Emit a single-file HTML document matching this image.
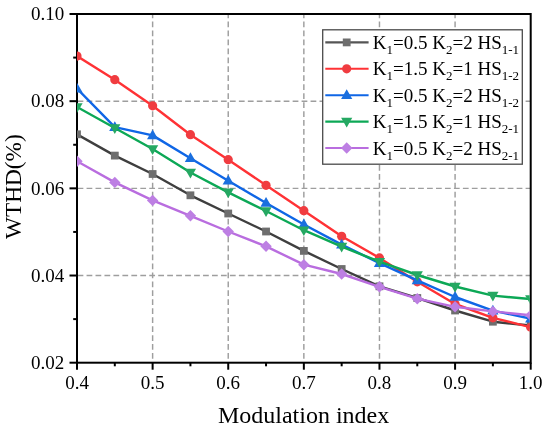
<!DOCTYPE html>
<html><head><meta charset="utf-8"><title>WTHD vs Modulation index</title>
<style>
html,body{margin:0;padding:0;background:#fff;}
body{width:550px;height:430px;overflow:hidden;}
svg{display:block;}
text{font-family:"Liberation Serif",serif;fill:#000;}
.t{font-size:19px;}
.ax{font-size:24px;}
.sub{font-size:13px;}
</style></head><body>
<svg width="550" height="430" viewBox="0 0 550 430">
<rect width="550" height="430" fill="#fff"/>
<defs><clipPath id="pc"><rect x="77" y="14" width="452.7" height="347.7"/></clipPath></defs>
<g stroke="#9e9e9e" stroke-width="1.45" stroke-dasharray="5.75 3.21" fill="none"><line x1="152.62" y1="14.0" x2="152.62" y2="362.7" stroke-dashoffset="1.4"/><line x1="228.23" y1="14.0" x2="228.23" y2="362.7" stroke-dashoffset="1.4"/><line x1="303.85" y1="14.0" x2="303.85" y2="362.7" stroke-dashoffset="1.4"/><line x1="379.47" y1="14.0" x2="379.47" y2="362.7" stroke-dashoffset="1.4"/><line x1="455.08" y1="14.0" x2="455.08" y2="362.7" stroke-dashoffset="1.4"/><line x1="77.6" y1="275.52" x2="530.7" y2="275.52"/><line x1="77.6" y1="188.35" x2="530.7" y2="188.35"/><line x1="77.6" y1="101.18" x2="530.7" y2="101.18"/></g>
<rect x="77.0" y="14.0" width="453.70" height="348.70" fill="none" stroke="#000" stroke-width="2"/>
<g clip-path="url(#pc)">
<polyline points="77.00,134.30 114.81,155.60 152.62,174.00 190.43,195.30 228.23,213.50 266.04,231.50 303.85,250.90 341.66,269.00 379.47,286.30 417.28,298.00 455.08,310.50 492.89,321.70 530.70,325.50" fill="none" stroke="#3f3f3f" stroke-width="2.4" stroke-linejoin="round"/>
<rect x="73.10" y="130.40" width="7.8" height="7.8" fill="#6e6e6e"/><rect x="110.91" y="151.70" width="7.8" height="7.8" fill="#6e6e6e"/><rect x="148.72" y="170.10" width="7.8" height="7.8" fill="#6e6e6e"/><rect x="186.53" y="191.40" width="7.8" height="7.8" fill="#6e6e6e"/><rect x="224.33" y="209.60" width="7.8" height="7.8" fill="#6e6e6e"/><rect x="262.14" y="227.60" width="7.8" height="7.8" fill="#6e6e6e"/><rect x="299.95" y="247.00" width="7.8" height="7.8" fill="#6e6e6e"/><rect x="337.76" y="265.10" width="7.8" height="7.8" fill="#6e6e6e"/><rect x="375.57" y="282.40" width="7.8" height="7.8" fill="#6e6e6e"/><rect x="413.38" y="294.10" width="7.8" height="7.8" fill="#6e6e6e"/><rect x="451.18" y="306.60" width="7.8" height="7.8" fill="#6e6e6e"/><rect x="488.99" y="317.80" width="7.8" height="7.8" fill="#6e6e6e"/><rect x="526.80" y="321.60" width="7.8" height="7.8" fill="#6e6e6e"/>
<polyline points="77.00,56.10 114.81,79.70 152.62,105.80 190.43,134.70 228.23,159.70 266.04,185.30 303.85,210.70 341.66,236.30 379.47,257.90 417.28,281.80 455.08,304.00 492.89,317.80 530.70,327.30" fill="none" stroke="#ff3235" stroke-width="2.4" stroke-linejoin="round"/>
<circle cx="77.00" cy="56.10" r="4.6" fill="#f03c40"/><circle cx="114.81" cy="79.70" r="4.6" fill="#f03c40"/><circle cx="152.62" cy="105.80" r="4.6" fill="#f03c40"/><circle cx="190.43" cy="134.70" r="4.6" fill="#f03c40"/><circle cx="228.23" cy="159.70" r="4.6" fill="#f03c40"/><circle cx="266.04" cy="185.30" r="4.6" fill="#f03c40"/><circle cx="303.85" cy="210.70" r="4.6" fill="#f03c40"/><circle cx="341.66" cy="236.30" r="4.6" fill="#f03c40"/><circle cx="379.47" cy="257.90" r="4.6" fill="#f03c40"/><circle cx="417.28" cy="281.80" r="4.6" fill="#f03c40"/><circle cx="455.08" cy="304.00" r="4.6" fill="#f03c40"/><circle cx="492.89" cy="317.80" r="4.6" fill="#f03c40"/><circle cx="530.70" cy="327.30" r="4.6" fill="#f03c40"/>
<polyline points="77.00,88.60 114.81,127.20 152.62,135.40 190.43,158.20 228.23,180.70 266.04,203.00 303.85,224.50 341.66,244.60 379.47,263.20 417.28,280.40 455.08,297.00 492.89,310.70 530.70,318.60" fill="none" stroke="#0f66e6" stroke-width="2.4" stroke-linejoin="round"/>
<polygon points="77.00,82.70 82.60,92.40 71.40,92.40" fill="#1a6fdf"/><polygon points="114.81,121.30 120.41,131.00 109.21,131.00" fill="#1a6fdf"/><polygon points="152.62,129.50 158.22,139.20 147.02,139.20" fill="#1a6fdf"/><polygon points="190.43,152.30 196.03,162.00 184.83,162.00" fill="#1a6fdf"/><polygon points="228.23,174.80 233.83,184.50 222.63,184.50" fill="#1a6fdf"/><polygon points="266.04,197.10 271.64,206.80 260.44,206.80" fill="#1a6fdf"/><polygon points="303.85,218.60 309.45,228.30 298.25,228.30" fill="#1a6fdf"/><polygon points="341.66,238.70 347.26,248.40 336.06,248.40" fill="#1a6fdf"/><polygon points="379.47,257.30 385.07,267.00 373.87,267.00" fill="#1a6fdf"/><polygon points="417.28,274.50 422.88,284.20 411.68,284.20" fill="#1a6fdf"/><polygon points="455.08,291.10 460.68,300.80 449.48,300.80" fill="#1a6fdf"/><polygon points="492.89,304.80 498.49,314.50 487.29,314.50" fill="#1a6fdf"/><polygon points="530.70,312.70 536.30,322.40 525.10,322.40" fill="#1a6fdf"/>
<polyline points="77.00,107.00 114.81,128.00 152.62,149.00 190.43,172.50 228.23,192.40 266.04,211.00 303.85,230.20 341.66,246.60 379.47,261.70 417.28,275.00 455.08,286.50 492.89,295.60 530.70,299.10" fill="none" stroke="#0ca856" stroke-width="2.4" stroke-linejoin="round"/>
<polygon points="77.00,112.90 82.60,103.20 71.40,103.20" fill="#25a862"/><polygon points="114.81,133.90 120.41,124.20 109.21,124.20" fill="#25a862"/><polygon points="152.62,154.90 158.22,145.20 147.02,145.20" fill="#25a862"/><polygon points="190.43,178.40 196.03,168.70 184.83,168.70" fill="#25a862"/><polygon points="228.23,198.30 233.83,188.60 222.63,188.60" fill="#25a862"/><polygon points="266.04,216.90 271.64,207.20 260.44,207.20" fill="#25a862"/><polygon points="303.85,236.10 309.45,226.40 298.25,226.40" fill="#25a862"/><polygon points="341.66,252.50 347.26,242.80 336.06,242.80" fill="#25a862"/><polygon points="379.47,267.60 385.07,257.90 373.87,257.90" fill="#25a862"/><polygon points="417.28,280.90 422.88,271.20 411.68,271.20" fill="#25a862"/><polygon points="455.08,292.40 460.68,282.70 449.48,282.70" fill="#25a862"/><polygon points="492.89,301.50 498.49,291.80 487.29,291.80" fill="#25a862"/><polygon points="530.70,305.00 536.30,295.30 525.10,295.30" fill="#25a862"/>
<polyline points="77.00,161.20 114.81,182.40 152.62,200.40 190.43,215.80 228.23,231.50 266.04,246.30 303.85,264.70 341.66,274.00 379.47,286.80 417.28,298.70 455.08,306.80 492.89,311.40 530.70,315.30" fill="none" stroke="#b96ddf" stroke-width="2.4" stroke-linejoin="round"/>
<polygon points="77.00,155.50 82.70,161.20 77.00,166.90 71.30,161.20" fill="#bd7fe3"/><polygon points="114.81,176.70 120.51,182.40 114.81,188.10 109.11,182.40" fill="#bd7fe3"/><polygon points="152.62,194.70 158.32,200.40 152.62,206.10 146.92,200.40" fill="#bd7fe3"/><polygon points="190.43,210.10 196.12,215.80 190.43,221.50 184.73,215.80" fill="#bd7fe3"/><polygon points="228.23,225.80 233.93,231.50 228.23,237.20 222.53,231.50" fill="#bd7fe3"/><polygon points="266.04,240.60 271.74,246.30 266.04,252.00 260.34,246.30" fill="#bd7fe3"/><polygon points="303.85,259.00 309.55,264.70 303.85,270.40 298.15,264.70" fill="#bd7fe3"/><polygon points="341.66,268.30 347.36,274.00 341.66,279.70 335.96,274.00" fill="#bd7fe3"/><polygon points="379.47,281.10 385.17,286.80 379.47,292.50 373.77,286.80" fill="#bd7fe3"/><polygon points="417.28,293.00 422.98,298.70 417.28,304.40 411.58,298.70" fill="#bd7fe3"/><polygon points="455.08,301.10 460.78,306.80 455.08,312.50 449.38,306.80" fill="#bd7fe3"/><polygon points="492.89,305.70 498.59,311.40 492.89,317.10 487.19,311.40" fill="#bd7fe3"/><polygon points="530.70,309.60 536.40,315.30 530.70,321.00 525.00,315.30" fill="#bd7fe3"/>
</g>
<g stroke="#000" stroke-width="2"><line x1="77.00" y1="362.7" x2="77.00" y2="369.7"/><line x1="114.81" y1="362.7" x2="114.81" y2="366.3"/><line x1="152.62" y1="362.7" x2="152.62" y2="369.7"/><line x1="190.43" y1="362.7" x2="190.43" y2="366.3"/><line x1="228.23" y1="362.7" x2="228.23" y2="369.7"/><line x1="266.04" y1="362.7" x2="266.04" y2="366.3"/><line x1="303.85" y1="362.7" x2="303.85" y2="369.7"/><line x1="341.66" y1="362.7" x2="341.66" y2="366.3"/><line x1="379.47" y1="362.7" x2="379.47" y2="369.7"/><line x1="417.28" y1="362.7" x2="417.28" y2="366.3"/><line x1="455.08" y1="362.7" x2="455.08" y2="369.7"/><line x1="492.89" y1="362.7" x2="492.89" y2="366.3"/><line x1="530.70" y1="362.7" x2="530.70" y2="369.7"/><line x1="77.0" y1="362.70" x2="69.5" y2="362.70"/><line x1="77.0" y1="319.11" x2="73.2" y2="319.11"/><line x1="77.0" y1="275.52" x2="69.5" y2="275.52"/><line x1="77.0" y1="231.94" x2="73.2" y2="231.94"/><line x1="77.0" y1="188.35" x2="69.5" y2="188.35"/><line x1="77.0" y1="144.76" x2="73.2" y2="144.76"/><line x1="77.0" y1="101.18" x2="69.5" y2="101.18"/><line x1="77.0" y1="57.59" x2="73.2" y2="57.59"/><line x1="77.0" y1="14.00" x2="69.5" y2="14.00"/></g>
<text class="t" x="77.00" y="388.8" text-anchor="middle">0.4</text><text class="t" x="152.62" y="388.8" text-anchor="middle">0.5</text><text class="t" x="228.23" y="388.8" text-anchor="middle">0.6</text><text class="t" x="303.85" y="388.8" text-anchor="middle">0.7</text><text class="t" x="379.47" y="388.8" text-anchor="middle">0.8</text><text class="t" x="455.08" y="388.8" text-anchor="middle">0.9</text><text class="t" x="530.70" y="388.8" text-anchor="middle">1.0</text><text class="t" x="64.3" y="369.00" text-anchor="end">0.02</text><text class="t" x="64.3" y="281.82" text-anchor="end">0.04</text><text class="t" x="64.3" y="194.65" text-anchor="end">0.06</text><text class="t" x="64.3" y="107.48" text-anchor="end">0.08</text><text class="t" x="64.3" y="20.30" text-anchor="end">0.10</text>
<text class="ax" x="303.6" y="423" text-anchor="middle">Modulation index</text>
<text class="ax" style="font-size:23.3px" transform="translate(21.3,186.7) rotate(-90)" text-anchor="middle">WTHD(%)</text>
<rect x="322.7" y="29.8" width="199.6" height="134.4" fill="#fff" stroke="#4a4a4a" stroke-width="1.3"/>
<line x1="325.3" y1="42.4" x2="368.6" y2="42.4" stroke="#555" stroke-width="2.1"/><rect x="342.80" y="38.50" width="7.8" height="7.8" fill="#6e6e6e"/><text class="t" x="372.8" y="49.0">K<tspan class="sub" dy="5">1</tspan><tspan dy="-5">=0.5 K</tspan><tspan class="sub" dy="5">2</tspan><tspan dy="-5">=2 HS</tspan><tspan class="sub" dy="5">1-1</tspan></text>
<line x1="325.3" y1="68.8" x2="368.6" y2="68.8" stroke="#ff3235" stroke-width="2.1"/><circle cx="346.70" cy="68.80" r="4.6" fill="#f03c40"/><text class="t" x="372.8" y="75.4">K<tspan class="sub" dy="5">1</tspan><tspan dy="-5">=1.5 K</tspan><tspan class="sub" dy="5">2</tspan><tspan dy="-5">=1 HS</tspan><tspan class="sub" dy="5">1-2</tspan></text>
<line x1="325.3" y1="95.2" x2="368.6" y2="95.2" stroke="#0f66e6" stroke-width="2.1"/><polygon points="346.70,89.30 352.30,99.00 341.10,99.00" fill="#1a6fdf"/><text class="t" x="372.8" y="101.8">K<tspan class="sub" dy="5">1</tspan><tspan dy="-5">=0.5 K</tspan><tspan class="sub" dy="5">2</tspan><tspan dy="-5">=2 HS</tspan><tspan class="sub" dy="5">1-2</tspan></text>
<line x1="325.3" y1="121.6" x2="368.6" y2="121.6" stroke="#0ca856" stroke-width="2.1"/><polygon points="346.70,127.50 352.30,117.80 341.10,117.80" fill="#25a862"/><text class="t" x="372.8" y="128.2">K<tspan class="sub" dy="5">1</tspan><tspan dy="-5">=1.5 K</tspan><tspan class="sub" dy="5">2</tspan><tspan dy="-5">=1 HS</tspan><tspan class="sub" dy="5">2-1</tspan></text>
<line x1="325.3" y1="148.0" x2="368.6" y2="148.0" stroke="#b96ddf" stroke-width="2.1"/><polygon points="346.70,142.30 352.40,148.00 346.70,153.70 341.00,148.00" fill="#bd7fe3"/><text class="t" x="372.8" y="154.6">K<tspan class="sub" dy="5">1</tspan><tspan dy="-5">=0.5 K</tspan><tspan class="sub" dy="5">2</tspan><tspan dy="-5">=2 HS</tspan><tspan class="sub" dy="5">2-1</tspan></text>
</svg></body></html>
